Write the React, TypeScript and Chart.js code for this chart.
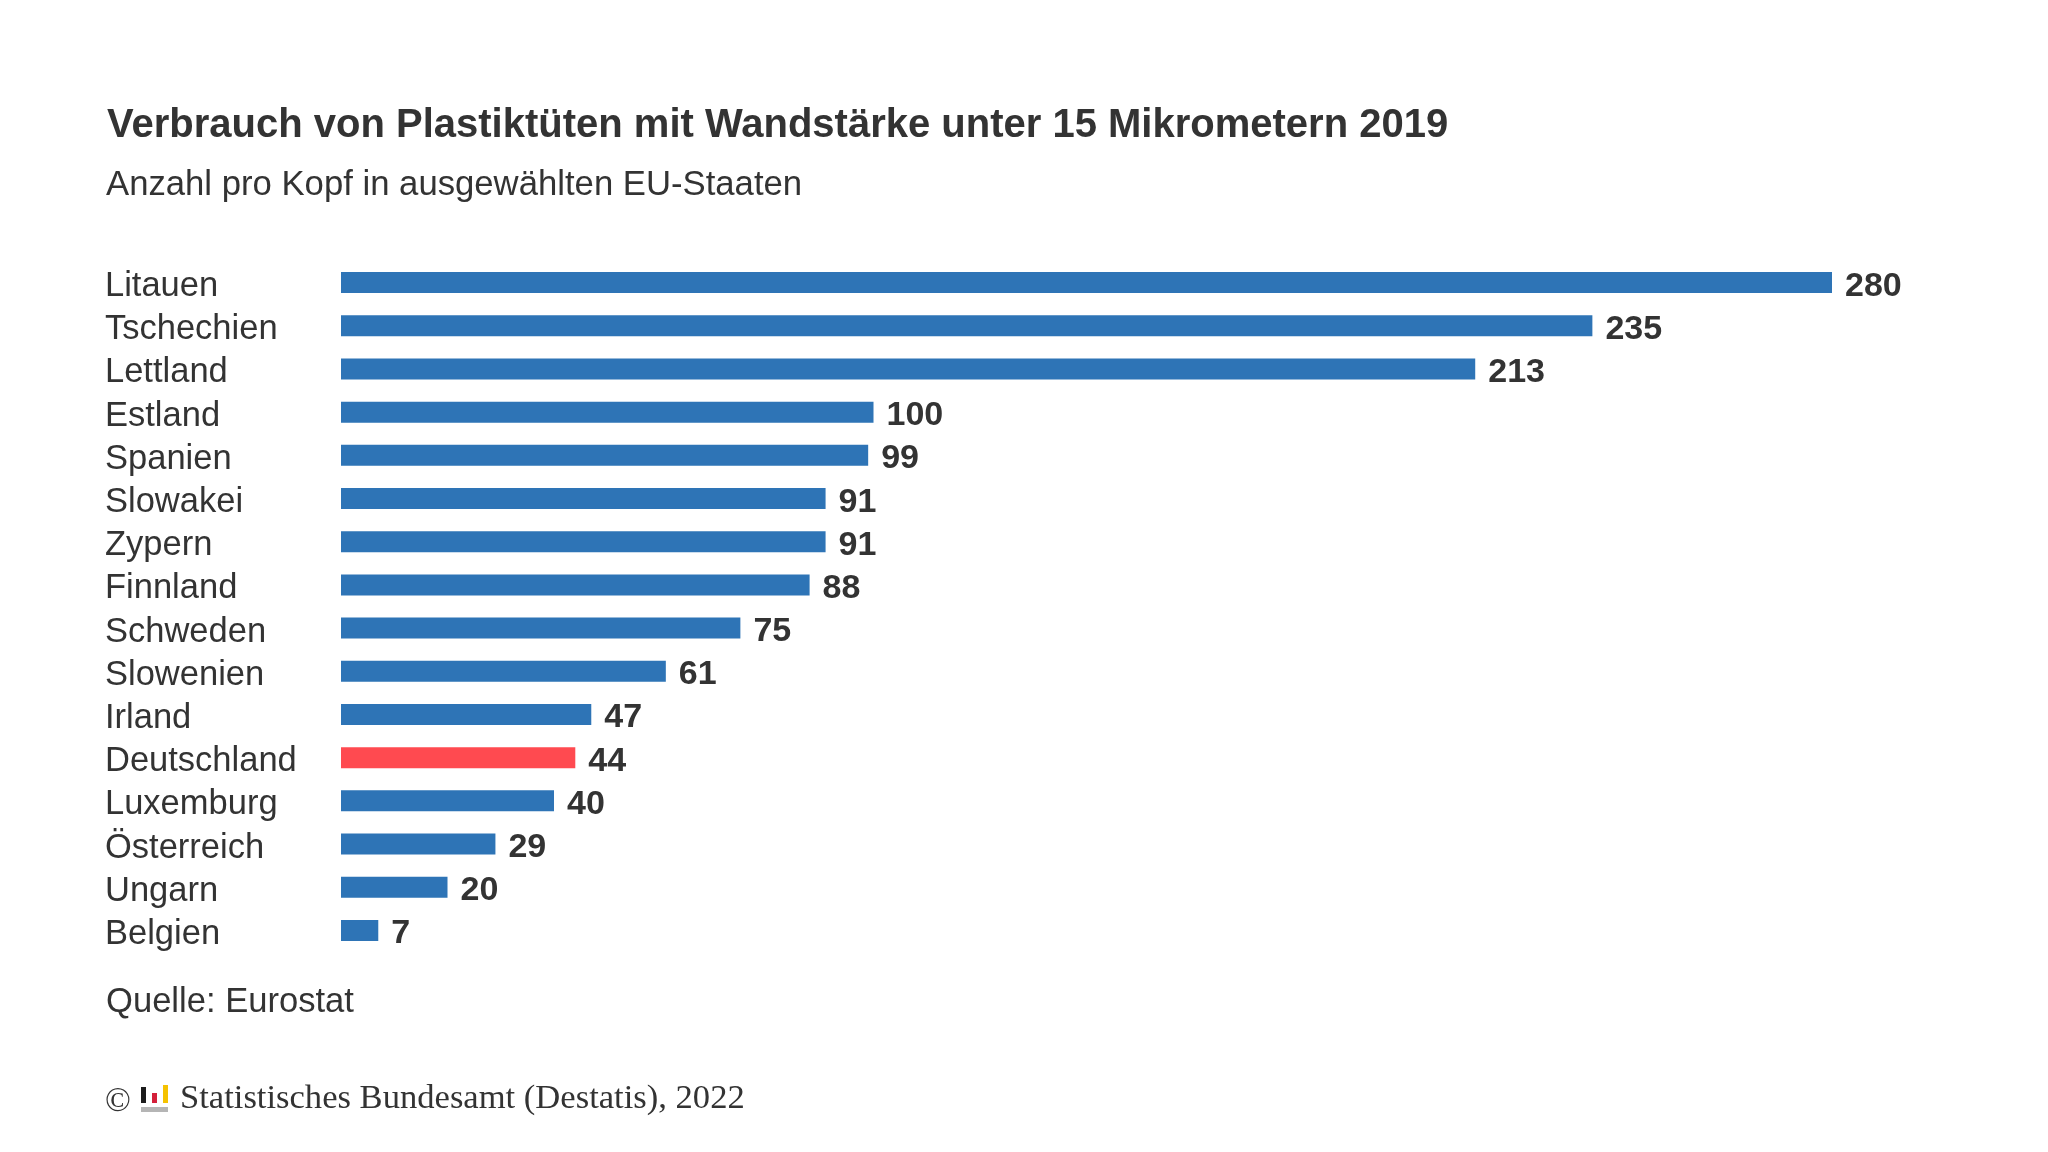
import React, { useEffect, useRef } from "react";
import { Chart, registerables } from "chart.js";

Chart.register(...registerables);

const categories = [
  "Litauen",
  "Tschechien",
  "Lettland",
  "Estland",
  "Spanien",
  "Slowakei",
  "Zypern",
  "Finnland",
  "Schweden",
  "Slowenien",
  "Irland",
  "Deutschland",
  "Luxemburg",
  "Österreich",
  "Ungarn",
  "Belgien",
];

const values = [280, 235, 213, 100, 99, 91, 91, 88, 75, 61, 47, 44, 40, 29, 20, 7];

const highlighted = "Deutschland";

const titleText = "Verbrauch von Plastiktüten mit Wandstärke unter 15 Mikrometern 2019";
const subtitleText = "Anzahl pro Kopf in ausgewählten EU-Staaten";
const sourceText = "Quelle: Eurostat";
const copyrightText = "Statistisches Bundesamt (Destatis), 2022";

const SANS = "'Liberation Sans', Arial, Helvetica, sans-serif";
const SERIF = "'Liberation Serif', 'Times New Roman', serif";
const TEXT = "#333333";
const BLUE = "#2e74b6";
const RED = "#ff4a50";

const valueLabelPlugin = {
  id: "valueLabels",
  afterDatasetsDraw(chart: any) {
    const ctx = chart.ctx;
    const meta = chart.getDatasetMeta(0);
    const data = chart.data.datasets[0].data as number[];
    ctx.save();
    ctx.font = `bold 34px ${SANS}`;
    ctx.fillStyle = TEXT;
    ctx.textAlign = "left";
    ctx.textBaseline = "alphabetic";
    meta.data.forEach((bar: any, i: number) => {
      ctx.fillText(String(data[i]), bar.x + 13, bar.y + 13);
    });
    ctx.restore();
  },
};

export default function App() {
  const canvasRef = useRef<HTMLCanvasElement | null>(null);

  useEffect(() => {
    document.body.style.margin = "0";
    document.body.style.background = "#ffffff";
    const canvas = canvasRef.current;
    if (!canvas) return;
    const chart = new Chart(canvas, {
      type: "bar",
      data: {
        labels: categories,
        datasets: [
          {
            data: values,
            backgroundColor: categories.map((c) => (c === highlighted ? RED : BLUE)),
            borderWidth: 0,
            barPercentage: 0.486,
            categoryPercentage: 1,
          },
        ],
      },
      options: {
        indexAxis: "y",
        responsive: false,
        animation: false,
        devicePixelRatio: 1,
        layout: {
          padding: { left: 105, right: 109.5, top: 261, bottom: 200 },
        },
        plugins: {
          legend: { display: false },
          tooltip: { enabled: false },
          title: { display: false },
        },
        scales: {
          x: {
            display: false,
            min: 0,
            max: 300,
            grid: { display: false },
          },
          y: {
            grid: { display: false, drawTicks: false },
            border: { display: false },
            afterFit(scale: any) {
              scale.width = 236;
            },
            ticks: {
              autoSkip: false,
              crossAlign: "far",
              padding: 0,
              color: TEXT,
              font: { family: SANS, size: 34.5 },
              labelOffset: 4,
            },
          },
        },
      } as any,
      plugins: [valueLabelPlugin],
    });
    return () => chart.destroy();
  }, []);

  const abs = (extra: React.CSSProperties): React.CSSProperties => ({
    position: "absolute",
    whiteSpace: "nowrap",
    lineHeight: 1,
    color: TEXT,
    ...extra,
  });

  return (
    <div style={{ position: "relative", width: 2048, height: 1152, background: "#fff", overflow: "hidden" }}>
      <canvas ref={canvasRef} width={2048} height={1152} style={{ position: "absolute", left: 0, top: 0, width: 2048, height: 1152 }} />
      <div style={abs({ left: 107, top: 103, fontFamily: SANS, fontSize: 40, fontWeight: "bold" })}>{titleText}</div>
      <div style={abs({ left: 106, top: 166, fontFamily: SANS, fontSize: 34.7 })}>{subtitleText}</div>
      <div style={abs({ left: 106, top: 983, fontFamily: SANS, fontSize: 34.6 })}>{sourceText}</div>
      <div style={abs({ left: 105, top: 1083, fontFamily: SERIF, fontSize: 34 })}>©</div>
      <div style={{ position: "absolute", left: 141, top: 1087, width: 5, height: 16, background: "#1c1c1c" }} />
      <div style={{ position: "absolute", left: 152, top: 1093, width: 5, height: 10, background: "#d4203a" }} />
      <div style={{ position: "absolute", left: 163, top: 1085, width: 5, height: 18, background: "#f5c200" }} />
      <div style={{ position: "absolute", left: 141, top: 1107, width: 27, height: 5, background: "#b5b5b5" }} />
      <div style={abs({ left: 180, top: 1079, fontFamily: SERIF, fontSize: 34.6 })}>{copyrightText}</div>
    </div>
  );
}
